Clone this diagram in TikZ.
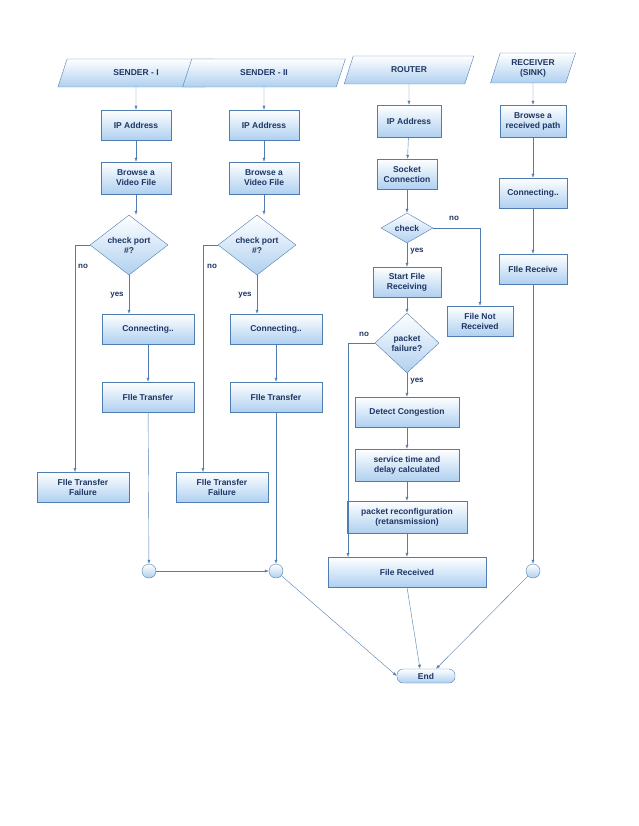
\documentclass[tikz,border=0pt]{standalone}
\usepackage{fontspec}
\setmainfont{Liberation Sans}
\usetikzlibrary{shapes.geometric,arrows.meta}
\definecolor{edge}{RGB}{80,125,175}
\definecolor{txt}{RGB}{30,55,100}
\definecolor{shadelo}{RGB}{175,208,240}
\begin{document}
\begin{tikzpicture}[x=1pt,y=-1pt,
  every node/.style={font=\fontsize{8.5}{10}\selectfont\bfseries, text=txt, align=center},
  box/.style={draw=edge, top color=white, bottom color=shadelo, minimum width=#1, minimum height=30, inner sep=1},
  box/.default=70,
  io/.style={draw=edge, top color=white, bottom color=shadelo, trapezium, trapezium left angle=72, trapezium right angle=108, minimum width=52, minimum height=28, inner sep=2},
  dec/.style={draw=edge, top color=white, bottom color=shadelo, diamond, aspect=#1, inner sep=1},
  dot/.style={draw=edge, top color=white, bottom color=shadelo, circle, minimum size=14, inner sep=0},
  lab/.style={font=\fontsize{8}{9}\selectfont\bfseries},
  arr/.style={draw=edge, -{Latex[length=4pt,width=3pt]}}]
\useasboundingbox (0,0) rectangle (638,826);

% sender I
\node[io] (s1) at (136,73) {SENDER - I};
\node[box] (ip1) at (136,125) {IP Address};
\node[box, minimum height=32] (br1) at (136,178) {Browse a\\Video File};
\node[dec=1.3, minimum width=78, minimum height=60] (c1) at (129,245) {check port\\\#?};
\node[box=92] (cn1) at (148,329) {Connecting..};
\node[box=92] (tr1) at (148,397) {FIle Transfer};
\node[box=92] (f1) at (83,487) {FIle Transfer\\Failure};
\node[dot] (d1) at (149,571) {};

% sender II
\node[io] (s2) at (264,73) {SENDER - II};
\node[box] (ip2) at (264,125) {IP Address};
\node[box, minimum height=32] (br2) at (264,178) {Browse a\\Video File};
\node[dec=1.3, minimum width=78, minimum height=60] (c2) at (257,245) {check port\\\#?};
\node[box=92] (cn2) at (276,329) {Connecting..};
\node[box=92] (tr2) at (276,397) {FIle Transfer};
\node[box=92] (f2) at (222,487) {FIle Transfer\\Failure};
\node[dot] (d2) at (276,571) {};

% router
\node[io] (r) at (409,70) {ROUTER};
\node[box=64, minimum height=32] (ip3) at (409,121) {IP Address};
\node[box=60] (sc) at (407,174) {Socket\\Connection};
\node[dec=1.7, minimum width=52, minimum height=30] (c3) at (407,228) {check};
\node[box=68] (sf) at (407,282) {Start File\\Receiving};
\node[box=66] (nr) at (480,321) {File Not\\Received};
\node[dec=1.1, minimum width=64, minimum height=60] (pf) at (407,343) {packet\\failure?};
\node[box=104] (dc) at (407,412) {Detect Congestion};
\node[box=104, minimum height=32] (sv) at (407,465) {service time and\\delay calculated};
\node[box=120, minimum height=32] (pr) at (407,517) {packet reconfiguration\\(retansmission)};
\node[box=158] (fr) at (407,572) {File Received};

% receiver
\node[io, minimum width=56, minimum height=30] (rv) at (533,68) {RECEIVER\\(SINK)};
\node[box=66, minimum height=32] (br3) at (533,121) {Browse a\\received path};
\node[box=68] (cn3) at (533,193) {Connecting..};
\node[box=68] (fv) at (533,269) {FIle Receive};
\node[dot] (d3) at (533,571) {};

\node[draw=edge, top color=white, bottom color=shadelo, rounded corners=6, minimum width=58, minimum height=14, inner sep=1] (end) at (426,676) {End};

% connectors
\foreach \a/\b in {s1/ip1,ip1/br1,s2/ip2,ip2/br2,r/ip3,ip3/sc,sc/c3,rv/br3,br3/cn3,cn3/fv,
                   dc/sv,sv/pr,pr/fr}
  \draw[arr] (\a) -- (\b);
\draw[arr] (br1.south) -- (br1.south |- c1.north);
\draw[arr] (br2.south) -- (br2.south |- c2.north);
\draw[arr] (c1.south) -- (c1.south |- cn1.north);
\draw[arr] (c2.south) -- (c2.south |- cn2.north);
\draw[arr] (cn1) -- (tr1);
\draw[arr] (cn2) -- (tr2);
\draw[arr] (tr1) -- (d1);
\draw[arr] (tr2) -- (d2);
\draw[arr] (d1) -- (d2);
\draw[arr] (c1.west) -- (75,245) -- (75,472);
\draw[arr] (c2.west) -- (203,245) -- (203,472);
\draw[arr] (c3.south) -- (sf.north);
\draw[arr] (sf.south) -- (pf.north);
\draw[arr] (pf.south) -- (dc.north);
\draw[arr] (c3.east) -- (480,228) -- (nr.north);
\draw[arr] (pf.west) -- (348,343) -- (348,557);
\draw[arr] (fv) -- (d3);
\draw[arr] (d2) -- (end.west);
\draw[arr] (fr.south) -- ([xshift=-6]end.north);
\draw[arr] (d3) -- ([xshift=10]end.north);

% labels
\node[lab] at (83,266) {no};
\node[lab] at (212,266) {no};
\node[lab] at (117,295) {yes};
\node[lab] at (245,295) {yes};
\node[lab] at (454,218) {no};
\node[lab] at (417,251) {yes};
\node[lab] at (364,334) {no};
\node[lab] at (417,381) {yes};
\end{tikzpicture}
\end{document}
